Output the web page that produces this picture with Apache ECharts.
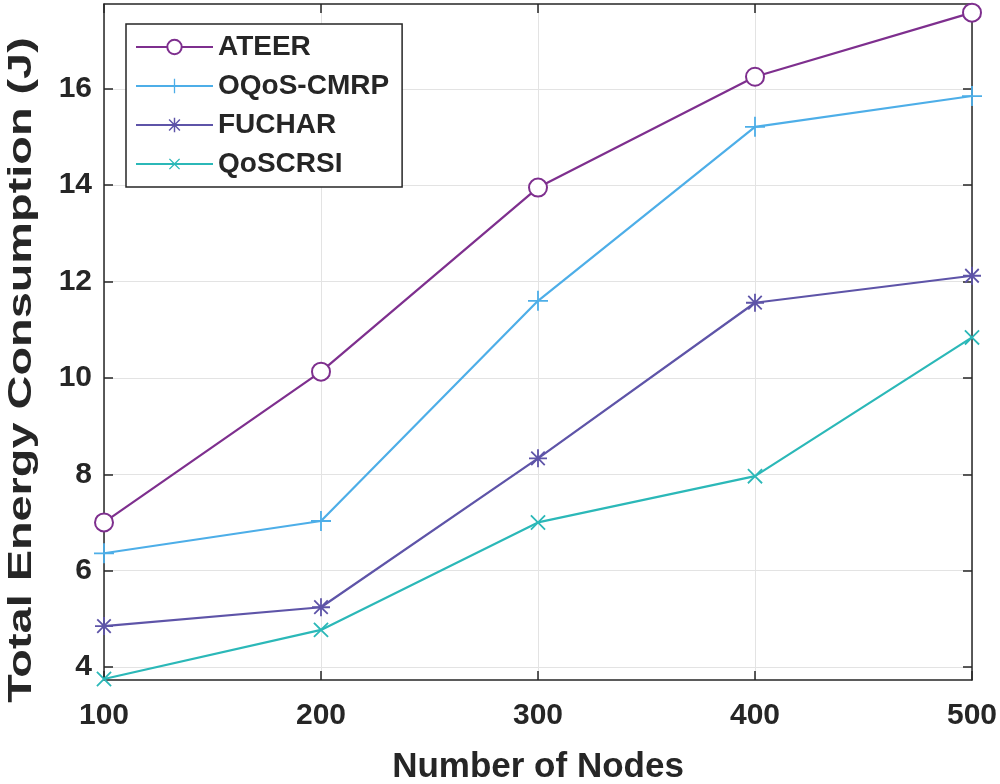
<!DOCTYPE html>
<html>
<head>
<meta charset="utf-8">
<script src="https://cdn.jsdelivr.net/npm/echarts@6/dist/echarts.min.js"></script>
<style>
  html, body { margin: 0; padding: 0; background: #fff; }
  #grafico { width: 1000px; height: 784px; }
</style>
</head>
<body>
<div id="grafico"></div>
<script>
// Datos
var nodos = [100, 200, 300, 400, 500];
var ateer = [7.0, 10.13, 13.95, 16.25, 17.58];
var oqosCmrp = [6.36, 7.03, 11.6, 15.21, 15.85];
var fuchar = [4.85, 5.24, 8.33, 11.56, 12.12];
var qoscrsi = [3.75, 4.77, 7.0, 7.96, 10.84];
var ticksY = [4, 6, 8, 10, 12, 14, 16];

var fuente = 'Liberation Sans';
var gris = '#262626';

// Simbolos tipo MATLAB
var simboloMas = 'path://M9.1,0h1.8v9.1h9.1v1.8h-9.1v9.1h-1.8v-9.1h-9.1v-1.8h9.1z';
var simboloAsterisco = 'path://M9,0h2v9h9v2h-9v9h-2v-9h-9v-2h9z M3.2,1.8L10,8.6L16.8,1.8L18.2,3.2L11.4,10L18.2,16.8L16.8,18.2L10,11.4L3.2,18.2L1.8,16.8L8.6,10L1.8,3.2z';

function armarSerie(nombre, datos, color, simbolo, tam, rotar) {
  return {
    name: nombre,
    type: 'line',
    data: nodos.map(function (n, i) { return [n, datos[i]]; }),
    symbol: simbolo,
    symbolSize: tam,
    symbolRotate: rotar || 0,
    showAllSymbol: true,
    lineStyle: { color: color, width: 2.2 },
    itemStyle: { color: color, borderColor: color, borderWidth: simbolo === 'emptyCircle' ? 2.2 : 0 },
    emphasis: { disabled: true },
    animation: false
  };
}

var chart = echarts.init(document.getElementById('grafico'));

var option = {
  backgroundColor: '#fff',
  grid: { left: 104, right: 28, top: 4, bottom: 104, outerBoundsMode: 'none', containLabel: false },
  legend: {
    orient: 'vertical',
    left: 126,
    top: 24,
    padding: [9, 13, 9, 9],
    itemWidth: 77,
    itemHeight: 18,
    itemGap: 11,
    backgroundColor: '#fff',
    borderColor: gris,
    borderWidth: 1.5,
    textStyle: { fontFamily: fuente, fontWeight: 'bold', fontSize: 28, color: gris },
    data: ['ATEER', 'OQoS-CMRP', 'FUCHAR', 'QoSCRSI']
  },
  // Titulo del eje Y (estirado a lo largo como en la figura)
  graphic: [{
    type: 'text',
    x: 22,
    y: 370,
    rotation: Math.PI / 2,
    scaleX: 1.42,
    style: {
      text: 'Total Energy Consumption (J)',
      font: 'bold 33px ' + fuente,
      fill: gris,
      align: 'center',
      verticalAlign: 'middle'
    }
  }],
  xAxis: [{
    type: 'value',
    min: 100,
    max: 500,
    interval: 100,
    name: 'Number of Nodes',
    nameLocation: 'middle',
    nameGap: 70,
    nameTextStyle: { fontFamily: fuente, fontWeight: 'bold', fontSize: 35, color: gris },
    axisLine: { lineStyle: { color: gris, width: 1.5 } },
    axisTick: { inside: true, length: 9, lineStyle: { color: gris, width: 1.5 } },
    axisLabel: { margin: 21, fontFamily: fuente, fontWeight: 'bold', fontSize: 30, color: gris },
    splitLine: { show: true, lineStyle: { color: '#e3e3e3', width: 1 } }
  }, {
    type: 'value',
    position: 'top',
    min: 100,
    max: 500,
    interval: 100,
    axisLine: { show: true, lineStyle: { color: gris, width: 1.5 } },
    axisTick: { show: true, inside: true, length: 9, lineStyle: { color: gris, width: 1.5 } },
    axisLabel: { show: false },
    splitLine: { show: false }
  }],
  yAxis: [{
    type: 'value',
    min: 3.73,
    max: 17.76,
    axisLine: { show: true, lineStyle: { color: gris, width: 1.5 } },
    axisTick: { show: true, inside: true, length: 9, customValues: ticksY, lineStyle: { color: gris, width: 1.5 } },
    axisLabel: { margin: 12, customValues: ticksY, fontFamily: fuente, fontWeight: 'bold', fontSize: 30, color: gris },
    splitLine: { show: true, lineStyle: { color: '#e3e3e3', width: 1 } }
  }, {
    type: 'value',
    position: 'right',
    min: 3.73,
    max: 17.76,
    axisLine: { show: true, lineStyle: { color: gris, width: 1.5 } },
    axisTick: { show: true, inside: true, length: 9, customValues: ticksY, lineStyle: { color: gris, width: 1.5 } },
    axisLabel: { show: false },
    splitLine: { show: false }
  }],
  series: [
    armarSerie('ATEER', ateer, '#7E2F8E', 'emptyCircle', 18),
    armarSerie('OQoS-CMRP', oqosCmrp, '#4DAEE8', simboloMas, 20),
    armarSerie('FUCHAR', fuchar, '#5E54A8', simboloAsterisco, 18),
    armarSerie('QoSCRSI', qoscrsi, '#2BB8B8', simboloMas, 20, 45)
  ]
};

chart.setOption(option);
</script>
</body>
</html>
